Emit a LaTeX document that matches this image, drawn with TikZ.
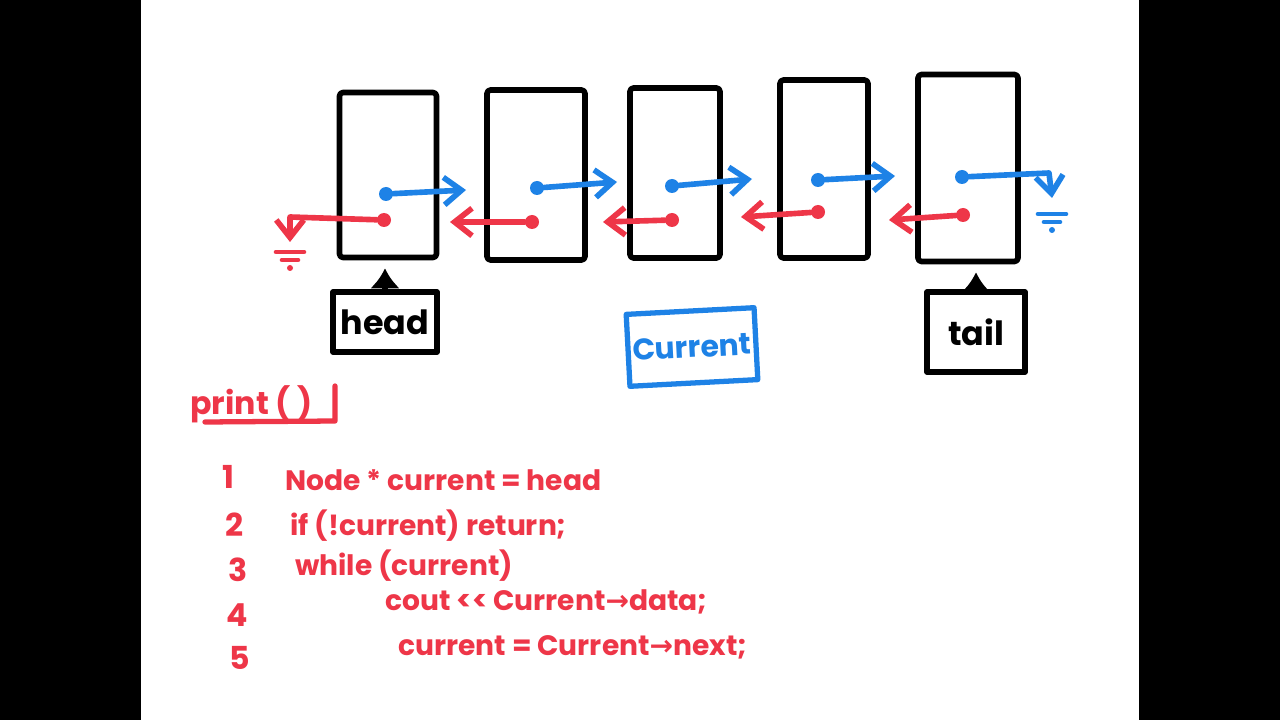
\documentclass[tikz,border=0pt]{standalone}
\usepackage{fontspec}
\setmainfont{Poppins}
\newfontfamily\arrowfont{DejaVu Sans}
\usetikzlibrary{arrows.meta,positioning}
\definecolor{inkred}{RGB}{238,54,72}
\definecolor{inkblue}{RGB}{30,130,230}
\newcommand\ptrto{{\arrowfont\bfseries →}}

\begin{document}
\begin{tikzpicture}[
  x=0.2mm, y=-0.2mm, line cap=round, line join=round,
  >={Straight Barb[length=3.5mm,width=5.5mm]},
  listnode/.style={draw, line width=3.2pt, rounded corners=2pt, inner sep=0pt},
  tagbox/.style={draw, line width=3pt, inner sep=0pt, font=\bfseries\fontsize{19}{21}\selectfont},
  nextptr/.style={->, inkblue, line width=3.2pt},
  prevptr/.style={->, inkred, line width=3.2pt},
  dot/.style={circle, fill, inner sep=0pt, minimum size=2.8mm},
  code/.style={inkred, anchor=base west, inner sep=0pt, font=\bfseries\fontsize{16}{18}\selectfont},
  lineno/.style={code, font=\bfseries\fontsize{18}{20}\selectfont},
  groundmark/.pic={
    \draw[line width=2.6pt] (-14,0) -- (14,0);
    \draw[line width=2.6pt] (-8,8) -- (8,8);
    \fill (0,16) circle (3);
  }
]
  % page: black side bars, white board
  \fill[black] (0,0) rectangle (1280,720);
  \fill[white] (141,0) rectangle (1139,720);

  % the five list nodes
  \node[listnode, minimum width=19.4mm, minimum height=33mm] (n1) at (388,175) {};
  \node[listnode, minimum width=19.6mm, minimum height=34mm] (n2) at (536,175) {};
  \node[listnode, minimum width=18mm, minimum height=34mm] (n3) at (675,173) {};
  \node[listnode, minimum width=17.6mm, minimum height=35.6mm] (n4) at (824,169) {};
  \node[listnode, minimum width=20mm, minimum height=37.4mm] (n5) at (968,168) {};

  % next pointers
  \node[dot, inkblue] (n1nx) at (386,194) {};
  \node[dot, inkblue] (n2nx) at (537,188) {};
  \node[dot, inkblue] (n3nx) at (672,186) {};
  \node[dot, inkblue] (n4nx) at (818,180) {};
  \node[dot, inkblue] (n5nx) at (962,177) {};
  \coordinate (n1to) at (466,190);
  \coordinate (n2to) at (617,182);
  \coordinate (n3to) at (752,179);
  \coordinate (n4to) at (895,176);
  \coordinate (nullR) at (1052,198);
  \draw[nextptr] (n1nx) -- (n1to);
  \draw[nextptr] (n2nx) -- (n2to);
  \draw[nextptr] (n3nx) -- (n3to);
  \draw[nextptr] (n4nx) -- (n4to);
  \draw[nextptr] (n5nx) -- (1049,173) -- (nullR);
  \pic[inkblue] at (1052,214) {groundmark};

  % prev pointers
  \node[dot, inkred] (n1pv) at (384,220) {};
  \node[dot, inkred] (n2pv) at (532,222) {};
  \node[dot, inkred] (n3pv) at (672,220) {};
  \node[dot, inkred] (n4pv) at (818,212) {};
  \node[dot, inkred] (n5pv) at (963,215) {};
  \coordinate (n2back) at (450,222);
  \coordinate (n3back) at (603,222);
  \coordinate (n4back) at (741,217);
  \coordinate (n5back) at (889,220);
  \coordinate (nullL) at (290,242);
  \draw[prevptr] (n1pv) -- (290,217) -- (nullL);
  \pic[inkred] at (290,252) {groundmark};
  \draw[prevptr] (n2pv) -- (n2back);
  \draw[prevptr] (n3pv) -- (n3back);
  \draw[prevptr] (n4pv) -- (n4back);
  \draw[prevptr] (n5pv) -- (n5back);

  % head / tail / current
  \node[tagbox, minimum width=20.8mm, minimum height=12mm] (head) at (385,322) {head};
  \node[tagbox, minimum width=19.6mm, minimum height=16mm] (tail) at (976,332) {tail};
  \node[tagbox, inkblue, minimum width=25.6mm, minimum height=14.4mm, rotate=3,
        font=\bfseries\fontsize{17}{19}\selectfont] (cur) at (692,347) {Current};
  \draw[-{Latex[length=4mm,width=6mm]}, line width=3pt, shorten >=1.6mm] (head.north) -- (head.north |- n1.south);
  \draw[-{Latex[length=4mm,width=6mm]}, line width=3pt, shorten >=1.6mm] (tail.north) -- (tail.north |- n5.south);

  % print() code
  \node[code, font=\bfseries\fontsize{18}{20}\selectfont] (title) at (190,414) {print ( )};
  \draw[inkred, line width=3pt] (205,422) -- (335,421) -- (335,386);

  \node[lineno] (l1) at (222,488) {1};
  \node[lineno] (l2) at (225,536) {2};
  \node[lineno] (l3) at (228,581) {3};
  \node[lineno] (l4) at (226,626) {4};
  \node[lineno] (l5) at (229,669) {5};
  \node[code] (c1) at (285,490) {Node * current = head};
  \node[code] (c2) at (290,535) {if (!current) return;};
  \node[code] (c3) at (295,575) {while (current)};
  \node[code] (c4) at (385,610) {cout {<}{<} Current\ptrto data;};
  \node[code] (c5) at (398,655) {current = Current\ptrto next;};
\end{tikzpicture}
\end{document}
